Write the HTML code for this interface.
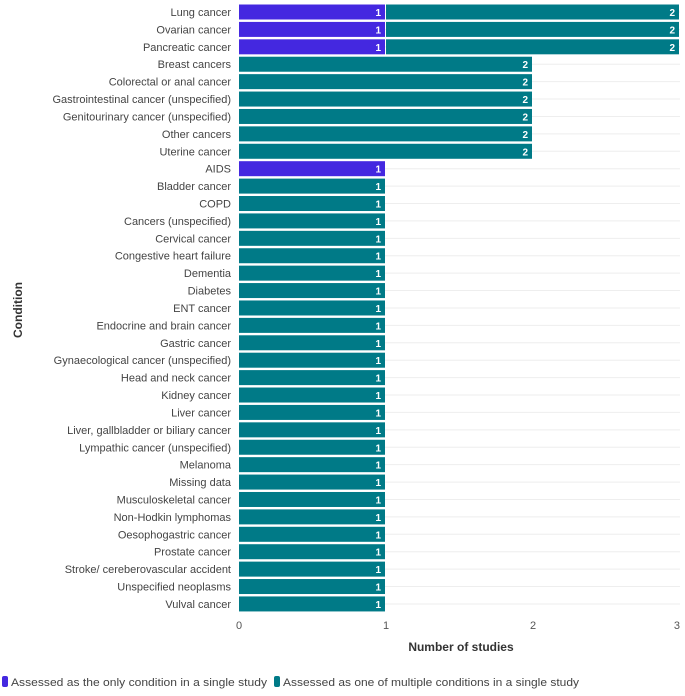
<!DOCTYPE html>
<html><head><meta charset="utf-8"><style>
body{margin:0;background:#fff;font-family:"Liberation Sans",sans-serif;}
svg text{font-family:"Liberation Sans",sans-serif;}
</style></head><body>
<svg id="c" width="685" height="691"></svg>
<script>
const categories=["Lung cancer","Ovarian cancer","Pancreatic cancer","Breast cancers","Colorectal or anal cancer","Gastrointestinal cancer (unspecified)","Genitourinary cancer (unspecified)","Other cancers","Uterine cancer","AIDS","Bladder cancer","COPD","Cancers (unspecified)","Cervical cancer","Congestive heart failure","Dementia","Diabetes","ENT cancer","Endocrine and brain cancer","Gastric cancer","Gynaecological cancer (unspecified)","Head and neck cancer","Kidney cancer","Liver cancer","Liver, gallbladder or biliary cancer","Lympathic cancer (unspecified)","Melanoma","Missing data","Musculoskeletal cancer","Non-Hodkin lymphomas","Oesophogastric cancer","Prostate cancer","Stroke/ cereberovascular accident","Unspecified neoplasms","Vulval cancer"];
const onlyValues=[1,1,1,0,0,0,0,0,0,1,0,0,0,0,0,0,0,0,0,0,0,0,0,0,0,0,0,0,0,0,0,0,0,0,0];
const multiValues=[2,2,2,2,2,2,2,2,2,0,1,1,1,1,1,1,1,1,1,1,1,1,1,1,1,1,1,1,1,1,1,1,1,1,1];
const xTicks=[0,1,2,3];
const NS="http://www.w3.org/2000/svg";
const svg=document.getElementById('c');
const x0=239,x1=680,xMax=3,yTop=12,step=17.41,bh=15;
const xs=v=>x0+(x1-x0)*v/xMax;
const yc=i=>yTop+i*step;
function mk(t,a,txt){const e=document.createElementNS(NS,t);for(const k in a)e.setAttribute(k,a[k]);if(txt!=null)e.textContent=txt;svg.appendChild(e);return e;}
categories.forEach((c,i)=>{
  const g=mk('line',{x1:x0,x2:x1,y1:yc(i),y2:yc(i),stroke:'#eee','stroke-width':1});
  
  
  const l=mk('text',{x:231,y:yc(i)+4,'text-anchor':'end','font-size':11,fill:'#444'},c);
  
  
  let start=0;
  [[onlyValues[i],'#4428e0'],[multiValues[i],'#007a87']].forEach(([v,col],s)=>{
    if(!v)return;
    const r=mk('rect',{x:xs(start),y:yc(i)-bh/2,width:xs(start+v)-xs(start)-1,height:bh,fill:col});
    
    
    const t=mk('text',{x:xs(start+v)-5,y:yc(i)+4,'text-anchor':'end','font-size':10,'font-weight':'bold',fill:'#fff'},v);
    
    
    start+=v;
  });
});
xTicks.forEach(v=>{
  const t=mk('text',{x:xs(v),y:629,'text-anchor':v==3?'end':'middle','font-size':11,fill:'#555'},v);
  
  
});
const xt=mk('text',{x:461,y:651,'text-anchor':'middle','font-size':12,'font-weight':'bold',fill:'#333'},'Number of studies');


const yt=mk('text',{x:22,y:310,'text-anchor':'middle','font-size':12,'font-weight':'bold',fill:'#333',transform:'rotate(-90 22 310)'},'Condition');


[[2,'#4428e0','Assessed as the only condition in a single study',256],[274,'#007a87','Assessed as one of multiple conditions in a single study',296]].forEach(([x,col,txt,w])=>{
  const r=mk('rect',{x:x,y:676,width:6,height:11,rx:2,fill:col});
  
  
  const t=mk('text',{x:x+9,y:686,'font-size':11,fill:'#444',textLength:w,lengthAdjust:'spacingAndGlyphs'},txt);
  
  
});
</script>
</body></html>
